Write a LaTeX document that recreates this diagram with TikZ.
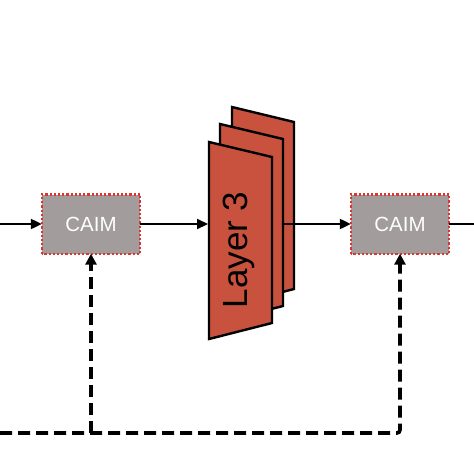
\documentclass[tikz,border=0pt]{standalone}
\usepackage{fontspec}
\setmainfont{Liberation Sans}
\usetikzlibrary{arrows.meta}
\definecolor{caimgray}{RGB}{162,156,156}
\definecolor{caimred}{RGB}{222,52,48}
\definecolor{layerred}{RGB}{200,82,62}
\tikzset{
  caim/.style={fill=caimgray, minimum width=98pt, minimum height=59pt, inner sep=0pt,
    text=white, font=\fontsize{20.5}{24}\selectfont},
  caimborder/.style={draw=caimred, line width=2.4pt, dash pattern=on 2.2pt off 2pt},
  plate/.style={fill=layerred, draw=black, line width=2.4pt, line join=miter},
  flow/.style={draw=black, line width=2.2pt, -{Triangle[length=11pt,width=10pt]}},
  skip/.style={draw=black, line width=3.6pt, dash pattern=on 12pt off 6pt, -{Triangle[length=11pt,width=11pt]}},
}
\begin{document}
\begin{tikzpicture}[x=1pt,y=-1pt]
\useasboundingbox (0,0) rectangle (474,474);
% plates (back to front)
\path[plate] (232,107) -- (294,122) -- (294,289) -- (232,305) -- cycle;
\path[plate] (220,124) -- (283,139) -- (283,306) -- (220,322) -- cycle;
\path[plate] (209,142) -- (272,157) -- (272,323) -- (209,339) -- cycle;
\node[rotate=90, font=\fontsize{35}{38}\selectfont, inner sep=0pt] (layer) at (239,250) {Layer 3};
\coordinate (layerin) at (208,224);
\coordinate (layerout) at (283,224);
% CAIM boxes
\node[caim] (caimA) at (91,224) {CAIM};
\node[caim] (caimB) at (400,224) {CAIM};
\draw[caimborder] (caimA.south west) rectangle (caimA.north east);
\draw[caimborder] (caimB.south west) rectangle (caimB.north east);
% main flow
\coordinate (in) at (0,224);
\coordinate (out) at (474,224);
\draw[flow] (in) -- (caimA.west);
\draw[flow] (caimA.east) -- (layerin);
\draw[flow] (layerout) -- (caimB.west);
\draw[draw=black, line width=2.2pt] (caimB.east) -- (out);
% skip connections
\coordinate (skipstart) at (0,433);
\coordinate (branch) at (91,433);
\draw[skip, rounded corners=3pt] (skipstart) -| (caimB.south);
\draw[skip] (branch) -- (caimA.south);
\end{tikzpicture}
\end{document}
